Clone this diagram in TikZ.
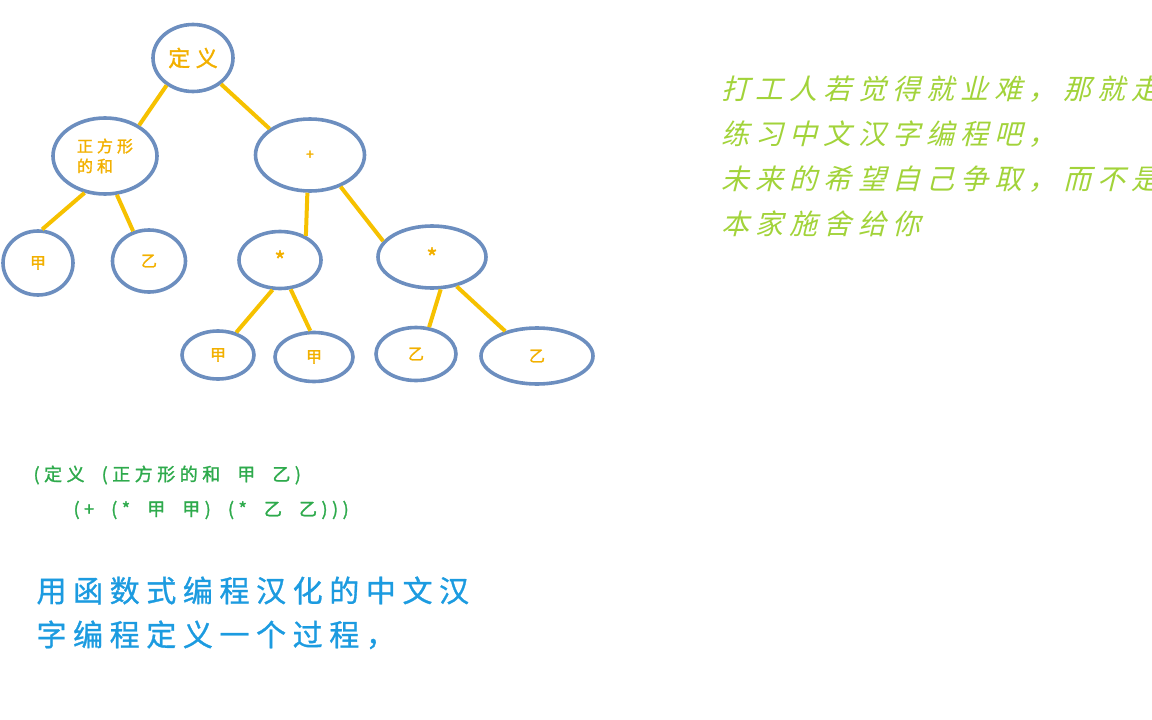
\documentclass[tikz,border=0pt]{standalone}
\usepackage{fontspec}
\usetikzlibrary{shapes.geometric}
\newfontfamily\cjk{Noto Sans CJK SC}
\newfontfamily\cjkwide[LetterSpace=22,FakeBold=1]{Noto Sans CJK SC}
\newfontfamily\cjkcode[LetterSpace=25,FakeBold=1.5]{Noto Sans CJK SC}
\newfontfamily\cjkslant[LetterSpace=22,FakeSlant=0.25]{Noto Sans CJK SC}
\definecolor{nodeblue}{HTML}{6C8EBF}
\definecolor{edgeyellow}{HTML}{F6C100}
\definecolor{labelorange}{HTML}{F2B000}
\definecolor{codegreen}{HTML}{2EAA4C}
\definecolor{titleblue}{HTML}{1C9BE0}
\definecolor{notegreen}{HTML}{A2D33A}

\begin{document}
\begin{tikzpicture}[x=1pt, y=-1pt,
    tnode/.style={ellipse, draw=nodeblue, line width=3.6pt, inner sep=0pt,
      text=labelorange, font=\cjkcode\fontsize{16}{18}\selectfont},
    star/.style={font=\cjkcode\fontsize{24}{24}\selectfont},
    branch/.style={draw=edgeyellow, line width=4pt},
    code/.style={anchor=west, text=codegreen, font=\cjkcode\fontsize{18}{20}\selectfont}]
    \clip (0, 0) rectangle (1152, 720);

    % tree
    \node[tnode, minimum width=80, minimum height=67] (def) at (193, 58) {\fontsize{22}{24}\selectfont 定义};
    \node[tnode, minimum width=104, minimum height=76, align=left] (sq) at (105, 156) {正方形\\[2pt]的和};
    \node[tnode, minimum width=109, minimum height=72] (plus) at (310, 155) {\fontsize{14}{14}\selectfont +};
    \node[tnode, minimum width=70, minimum height=64] (a) at (38, 263) {甲};
    \node[tnode, minimum width=73, minimum height=62] (b) at (149, 261) {乙};
    \node[tnode, star, minimum width=82, minimum height=57] (mula) at (280, 260) {*};
    \node[tnode, star, minimum width=108, minimum height=62] (mulb) at (432, 257) {*};
    \node[tnode, minimum width=72, minimum height=48] (aa) at (218, 355) {甲};
    \node[tnode, minimum width=78, minimum height=49] (ab) at (314, 357) {甲};
    \node[tnode, minimum width=80, minimum height=53] (ba) at (416, 354) {乙};
    \node[tnode, minimum width=112, minimum height=56] (bb) at (537, 356) {乙};

    \draw[branch] (def.226) -- (sq.42);
    \draw[branch] (def.317) -- (plus.147);
    \draw[branch] (sq.241) -- (a.83);
    \draw[branch] (sq.287) -- (b.118);
    \draw[branch] (plus.266) -- (mula.43);
    \draw[branch] (plus.314) -- (mulb.162);
    \draw[branch] (mula.256) -- (aa.51);
    \draw[branch] (mula.290) -- (ab.98);
    \draw[branch] (mulb.285) -- (ba.64);
    \draw[branch] (mulb.310) -- (bb.142);

    % code
    \node[code] (line1) at (30, 475) {(定义\ \ (正方形的和\ \ 甲\ \ 乙)};
    \node[code] (line2) at (70, 510) {(+\ \ (*\ \ 甲\ \ 甲)\ \ (*\ \ 乙\ \ 乙)))};

    % caption
    \node[anchor=north west, align=left, text=titleblue, font=\cjkwide\fontsize{30}{44}\selectfont] (title) at (33, 573) {用函数式编程汉化的中文汉\\字编程定义一个过程，};

    % note
    \node[anchor=north west, align=left, text=notegreen, font=\cjkslant\fontsize{28}{45}\selectfont] (note) at (718, 72) {打工人若觉得就业难，那就走\\练习中文汉字编程吧，\\未来的希望自己争取，而不是\\本家施舍给你};
\end{tikzpicture}
\end{document}
